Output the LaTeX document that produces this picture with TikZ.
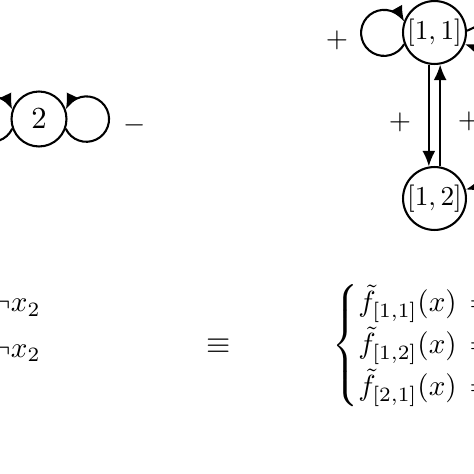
\documentclass[tikz,border=0pt]{standalone}
\usepackage{amsmath}
\usetikzlibrary{arrows.meta}
\begin{document}
\begin{tikzpicture}[x=0.3846pt,y=0.3846pt,
  st/.style={circle, draw, line width=0.8pt, inner sep=0pt},
  arr/.style={line width=0.8pt, -{Latex[length=6pt,width=5pt]}},
  lbl/.style={inner sep=0pt}]
\useasboundingbox (0,0) rectangle (474,474);
\clip (0,0) rectangle (474,474);
% nodes
\node[st, minimum size=21.15pt] (n2) at (39,355) {\scalebox{1.18}{$2$}};
\node[st, minimum size=24.2pt] (n11) at (434.5,441.5) {\scalebox{1.05}{$[1{,}\,1]$}};
\node[st, minimum size=24.2pt] (n12) at (434.5,275.5) {\scalebox{1.05}{$[1{,}\,2]$}};
% self loops of node 2
\draw[arr] (n2.-20.5) arc[start angle=205.2, end angle=514.8, radius=8.73pt];
\draw[arr] (n2.200.5) arc[start angle=-25.2, end angle=-334.8, radius=8.73pt];
% self loop of [1,1]
\draw[arr] (n11.201) arc[start angle=-29.3, end angle=-330.7, radius=8.85pt];
% vertical edges
\draw[arr] (n11.-100) -- node[lbl, pos=0.567, left=6.4pt] (p1) {\scalebox{1.1}{$+$}} (n12.100);
\draw[arr] (n12.80) -- node[lbl, pos=0.443, right=6.4pt] (p2) {\scalebox{1.1}{$+$}} (n11.-80);
% edges leaving the picture on the right
\coordinate (q1) at (560,470);
\coordinate (q2) at (560,400);
\coordinate (q3) at (560,300);
\draw[arr] (n11.3) to[out=25, in=180] (q1);
\draw[arr] (q2) to[out=170, in=-20] (n11.-21);
\draw[arr] (q3) to[out=180, in=15] (n12.16);
% signs
\node[lbl] (minus) at (135,349) {\scalebox{1.1}{$-$}};
\node[lbl] (plus) at (337,434) {\scalebox{1.1}{$+$}};
% bottom formulas
\node[lbl, anchor=base west] (l1) at (-9,162) {\scalebox{1.12}{$\neg x_2$}};
\node[lbl, anchor=base west] (l2) at (-9,117) {\scalebox{1.12}{$\neg x_2$}};
\node[lbl] (eq) at (218.5,128) {\scalebox{1.2}{$\equiv$}};
\node[lbl, anchor=west] (cs) at (332,128.5) {\scalebox{1.12}{\renewcommand{\arraystretch}{1.0}$\begin{cases}
\tilde{f}_{[1,1]}(x) \,= \\
\tilde{f}_{[1,2]}(x) \,= \\
\tilde{f}_{[2,1]}(x) \,=
\end{cases}$}};
\end{tikzpicture}
\end{document}
